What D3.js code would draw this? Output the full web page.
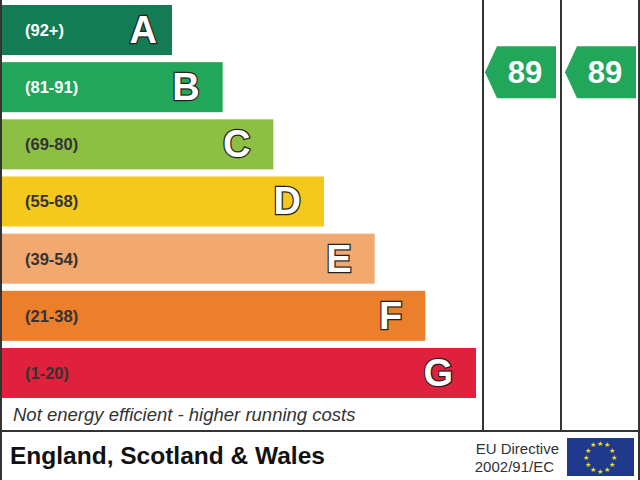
<!DOCTYPE html>
<html><head><meta charset="utf-8">
<script src="https://cdn.jsdelivr.net/npm/d3@7.9.0/dist/d3.min.js"></script>
<style>body{margin:0;background:#fff}svg{display:block}</style>
</head><body>
<svg id="c" width="640" height="480"></svg>
<script>
const bands = ['A', 'B', 'C', 'D', 'E', 'F', 'G'];
const ranges = ['(92+)', '(81-91)', '(69-80)', '(55-68)', '(39-54)', '(21-38)', '(1-20)'];
const upper = [100, 91, 80, 68, 54, 38, 20];
const colors = ['#137c55', '#22a659', '#8dbf45', '#f4c81c', '#f1a96f', '#ec7f2b', '#e0213e'];
const current = 89, potential = 89;

const svg = d3.select('#c');
const font = 'Liberation Sans, Arial, sans-serif';

// bar length grows as the band gets worse
const y = d3.scaleBand().domain(bands).range([5, 398]).paddingInner(0.125);
const x = d3.scaleLinear().domain([0, 6]).range([172, 476]);

const g = svg.selectAll('g.band').data(bands).join('g')
  .attr('transform', d => `translate(0,${y(d)})`);
g.append('rect').attr('x', 2).attr('width', (d, i) => x(i) - 2)
  .attr('height', y.bandwidth()).attr('fill', (d, i) => colors[i]);
g.append('text').attr('x', 25).attr('y', y.bandwidth() / 2 + 6)
  .attr('font-family', font).attr('font-size', 16.5).attr('font-weight', 'bold')
  .attr('fill', (d, i) => i < 2 ? '#fff' : '#333').text((d, i) => ranges[i]);
g.append('text').attr('x', (d, i) => x(i) - (i === 0 ? 15 : 23)).attr('y', y.bandwidth() / 2 + 13)
  .attr('text-anchor', 'end').attr('font-family', font).attr('font-size', 38).attr('font-weight', 'bold')
  .attr('fill', '#fff').attr('stroke', '#222').attr('stroke-width', 2.5).attr('paint-order', 'stroke')
  .text(d => d);

svg.append('text').attr('x', 13).attr('y', 421).attr('font-family', font).attr('font-size', 18.5)
  .attr('font-style', 'italic').attr('fill', '#333').text('Not energy efficient - higher running costs');

// frame lines
const line = (x1, y1, x2, y2) => svg.append('line').attr('x1', x1).attr('y1', y1).attr('x2', x2).attr('y2', y2)
  .attr('stroke', '#333').attr('stroke-width', 2);
line(1, 0, 1, 480); line(483, 0, 483, 431); line(561, 0, 561, 431);
line(0, 431, 640, 431); line(639, 0, 639, 480);

// rating arrows
function bandOf(v) { let i = bands.length - 1; upper.forEach((u, k) => { if (v <= u) i = k; }); return i; }
[[current, 485], [potential, 565]].forEach(([v, x0]) => {
  const i = bandOf(v), top = y(bands[i]) - 16, h = 52, w = 71;
  svg.append('path').attr('fill', colors[i])
    .attr('d', `M${x0},${top + h / 2}L${x0 + 12},${top}H${x0 + w}V${top + h}H${x0 + 12}Z`);
  svg.append('text').attr('x', x0 + 40).attr('y', top + h / 2 + 11).attr('text-anchor', 'middle')
    .attr('font-family', font).attr('font-size', 31).attr('font-weight', 'bold').attr('fill', '#fff').text(v);
});

svg.append('text').attr('x', 10).attr('y', 464).attr('font-family', font).attr('font-size', 24.5)
  .attr('font-weight', 'bold').attr('fill', '#111').text('England, Scotland & Wales');
svg.append('text').attr('x', 559).attr('y', 454).attr('text-anchor', 'end').attr('font-family', font)
  .attr('font-size', 15).attr('fill', '#333').text('EU Directive');
svg.append('text').attr('x', 554).attr('y', 472).attr('text-anchor', 'end').attr('font-family', font)
  .attr('font-size', 15).attr('fill', '#333').text('2002/91/EC');
svg.append('rect').attr('x', 567).attr('y', 438).attr('width', 67).attr('height', 38).attr('fill', '#1f3a8c');
d3.range(12).forEach(k => {
  const a = k * Math.PI / 6;
  svg.append('text').attr('x', 600 + 14 * Math.sin(a)).attr('y', 457 - 14 * Math.cos(a) + 2.5)
    .attr('text-anchor', 'middle').attr('font-size', 7).attr('fill', '#f4e017').text('★');
});
</script>
</body></html>
